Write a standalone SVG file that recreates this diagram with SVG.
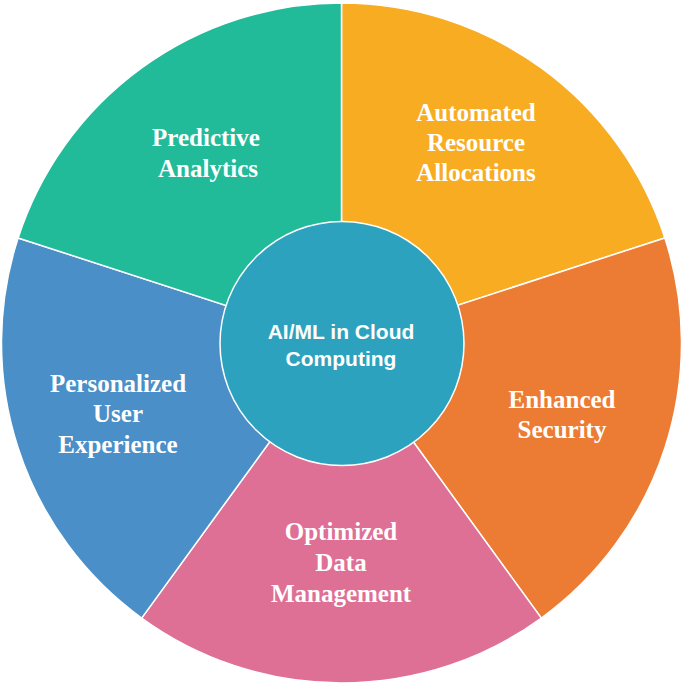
<svg xmlns="http://www.w3.org/2000/svg" width="685" height="687" viewBox="0 0 685 687">
<style>
.seg{stroke:#ffffff;stroke-width:1.5;stroke-linejoin:round}
.lbl{font-family:"Liberation Serif","Times New Roman",serif;font-weight:bold;font-size:25px;fill:#ffffff;text-anchor:middle}
.ctr{font-family:"Liberation Sans",Arial,sans-serif;font-weight:bold;font-size:21px;fill:#ffffff;text-anchor:middle}
</style>
<rect width="685" height="687" fill="#ffffff"/>
<g id="automated">
<path class="seg" fill="#F8AC22" d="M341.5,343 L341.5,3 A340,340 0 0 1 664.86,237.93 Z"/>
<text class="lbl" x="476" y="121">Automated</text>
<text class="lbl" x="476" y="151">Resource</text>
<text class="lbl" x="476" y="181">Allocations</text>
</g>
<g id="security">
<path class="seg" fill="#EC7C33" d="M341.5,343 L664.86,237.93 A340,340 0 0 1 541.35,618.07 Z"/>
<text class="lbl" x="562" y="408">Enhanced</text>
<text class="lbl" x="562" y="438">Security</text>
</g>
<g id="data">
<path class="seg" fill="#DE6F95" d="M341.5,343 L541.35,618.07 A340,340 0 0 1 141.65,618.07 Z"/>
<text class="lbl" x="341" y="540">Optimized</text>
<text class="lbl" x="341" y="571">Data</text>
<text class="lbl" x="341" y="602">Management</text>
</g>
<g id="personalized">
<path class="seg" fill="#4A8FC7" d="M341.5,343 L141.65,618.07 A340,340 0 0 1 18.14,237.93 Z"/>
<text class="lbl" x="118" y="392">Personalized</text>
<text class="lbl" x="118" y="422">User</text>
<text class="lbl" x="118" y="453">Experience</text>
</g>
<g id="predictive">
<path class="seg" fill="#21BB9A" d="M341.5,343 L18.14,237.93 A340,340 0 0 1 341.5,3 Z"/>
<text class="lbl" x="206" y="146">Predictive</text>
<text class="lbl" x="208" y="177">Analytics</text>
</g>
<g id="center">
<circle cx="342" cy="343.5" r="122" fill="#2DA2BE" stroke="#ffffff" stroke-width="1.5"/>
<text class="ctr" x="341" y="339">AI/ML in Cloud</text>
<text class="ctr" x="341" y="366">Computing</text>
</g>
<g id="connectors"/>
</svg>
